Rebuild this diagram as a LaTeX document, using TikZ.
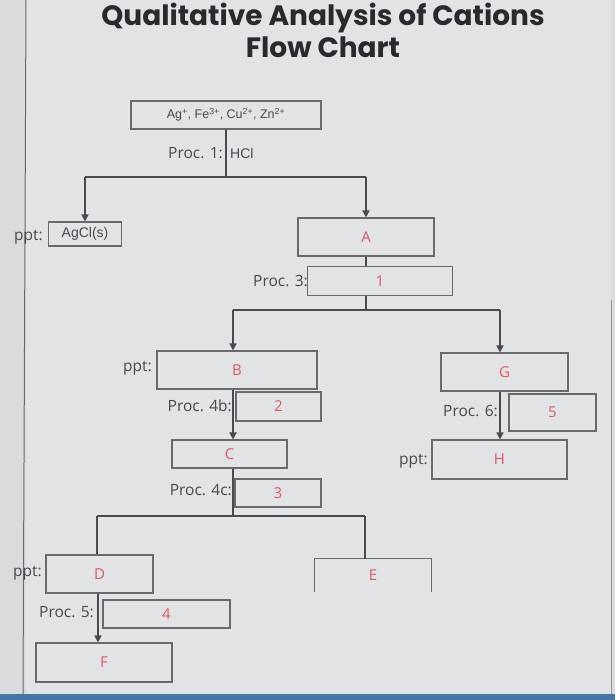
\documentclass[tikz,border=0pt]{standalone}
\usepackage{fontspec}
\setmainfont{Open Sans}
\newfontfamily\titlefont{Poppins}
\newfontfamily\boxfont{Liberation Sans}
\usetikzlibrary{arrows.meta}
\definecolor{bg}{RGB}{226,227,229}
\definecolor{strip}{RGB}{218,219,221}
\definecolor{ln}{RGB}{72,74,78}
\definecolor{bx}{RGB}{105,106,110}
\definecolor{lbl}{RGB}{72,74,78}
\definecolor{redtxt}{RGB}{222,88,98}
\definecolor{ttl}{RGB}{40,42,46}
\definecolor{bar}{RGB}{70,118,165}
\tikzset{
  box/.style={draw=bx, line width=1.1pt, fill=bg, inner sep=0pt, text=redtxt, font=\fontsize{15}{17}\selectfont},
  lab/.style={text=lbl, font=\fontsize{15.5}{18}\selectfont, inner sep=1pt},
  conn/.style={draw=ln, line width=1.5pt},
  arr/.style={conn, -{Triangle[width=7pt,length=7pt]}},
}
\begin{document}
\begin{tikzpicture}[x=1pt,y=-1pt]
\useasboundingbox (0,0) rectangle (615,700);
\fill[bg] (0,0) rectangle (615,700);
\fill[strip] (0,0) rectangle (26,700);
\fill[strip] (611,0) rectangle (615,700);
\draw[bx, line width=1pt] (26,0) -- (23,694);
\draw[bx!70, line width=1pt] (611,300) -- (611,694);
\fill[bar] (0,694) rectangle (615,700);

% title
\node[text=ttl, font=\titlefont\bfseries\fontsize{28}{32}\selectfont, align=center] (title) at (323,30) {Qualitative Analysis of Cations\\Flow Chart};

% boxes
\node[box, minimum width=190pt, minimum height=28pt, text=lbl, font=\boxfont\fontsize{12.5}{14}\selectfont] (top) at (226,115) {Ag\textsuperscript{+}, Fe\textsuperscript{3+}, Cu\textsuperscript{2+}, Zn\textsuperscript{2+}};
\node[box, minimum width=73pt, minimum height=24pt, text=lbl, font=\boxfont\fontsize{14}{16}\selectfont] (agcl) at (85,234) {AgCl(s)};
\node[box, minimum width=136pt, minimum height=38pt] (A) at (366,237) {A};
\node[box, minimum width=145pt, minimum height=29pt] (b1) at (380,281) {1};
\node[box, minimum width=160pt, minimum height=38pt] (B) at (237,370) {B};
\node[box, minimum width=85pt, minimum height=29pt] (b2) at (278.5,406.5) {2};
\node[box, minimum width=115pt, minimum height=28pt] (C) at (229.5,454) {C};
\node[box, minimum width=86pt, minimum height=28pt] (b3) at (278,493) {3};
\node[box, minimum width=107pt, minimum height=38pt] (D) at (99.5,574) {D};
\node[inner sep=0pt, minimum width=116pt, minimum height=33pt, text=redtxt, font=\fontsize{15}{17}\selectfont] (E) at (373,575.5) {E};
\draw[bx, line width=1.1pt] (E.south west) -- (E.north west) -- (E.north east) -- (E.south east);
\node[box, minimum width=127pt, minimum height=28pt] (b4) at (166.5,614) {4};
\node[box, minimum width=136pt, minimum height=39pt] (F) at (104,662.5) {F};
\node[box, minimum width=127pt, minimum height=38pt] (G) at (504.5,372) {G};
\node[box, minimum width=87pt, minimum height=37pt] (b5) at (552.5,412.5) {5};
\node[box, minimum width=135pt, minimum height=39pt] (H) at (499.5,459.5) {H};

% labels
\node[lab, anchor=east] (p1) at (224,153) {Proc. 1:};
\node[lab, anchor=west, font=\boxfont\fontsize{14}{16}\selectfont] (hcl) at (229,153) {HCl};
\node[lab, anchor=east] (pptag) at (44,237) {ppt:};
\node[lab, anchor=east] (p3) at (309,281) {Proc. 3:};
\node[lab, anchor=east] (pptb) at (153,368) {ppt:};
\node[lab, anchor=east] (p4b) at (233,406) {Proc. 4b:};
\node[lab, anchor=east] (p4c) at (233,490) {Proc. 4c:};
\node[lab, anchor=east] (pptd) at (43,573) {ppt:};
\node[lab, anchor=east] (p5) at (95,612) {Proc. 5:};
\node[lab, anchor=east] (p6) at (499,411) {Proc. 6:};
\node[lab, anchor=east] (ppth) at (429,461) {ppt:};

% junctions
\coordinate (j1) at (226,177);
\coordinate (j3) at (366,310);
\coordinate (j4) at (233,516);

% connectors
\draw[conn] (top.south) -- (j1);
\draw[conn] (agcl.north |- j1) -- (A.north |- j1);
\draw[arr] (agcl.north |- j1) -- (agcl.north);
\draw[arr] (A.north |- j1) -- (A.north);
\draw[conn] (A.south) -- (b1.north -| A.south);
\draw[conn] (b1.south -| A.south) -- (j3);
\draw[conn] (233,310) -- (500,310);
\draw[arr] (233,310) -- (B.north -| 233,0);
\draw[arr] (500,310) -- (G.north -| 500,0);
\draw[arr] (B.south -| 233,0) -- (C.north -| 233,0);
\draw[conn] (C.south -| 233,0) -- (j4);
\draw[conn] (97,516) -- (365,516);
\draw[conn] (97,516) -- (D.north -| 97,0);
\draw[conn] (365,516) -- (E.north -| 365,0);
\draw[arr] (D.south -| 98,0) -- (F.north -| 98,0);
\draw[arr] (G.south -| 500,0) -- (H.north -| 500,0);
\end{tikzpicture}
\end{document}
